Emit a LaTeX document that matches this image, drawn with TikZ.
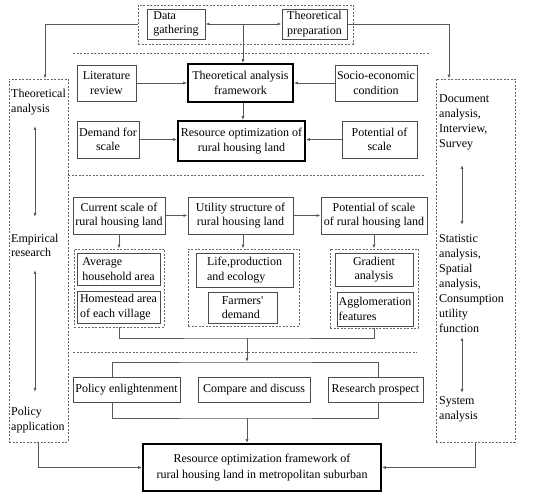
\documentclass[tikz,border=0pt]{standalone}
\usepackage{fontspec}
\setmainfont{Liberation Serif}
\newfontfamily\tnr{Liberation Serif}
\usetikzlibrary{arrows.meta}
\definecolor{lc}{gray}{0.35}
\definecolor{bc}{gray}{0.3}
\definecolor{dc}{gray}{0.4}
\begin{document}
\begin{tikzpicture}[x=1pt,y=-1pt,
  every node/.style={font=\tnr\fontsize{12}{14.5}\selectfont, inner sep=0pt},
  box/.style={draw=bc, line width=0.9pt, align=center},
  tbox/.style={draw=black, line width=1.6pt, align=center},
  dbox/.style={draw=dc, line width=0.7pt, dash pattern=on 2pt off 1.5pt},
  dline/.style={draw=dc, line width=0.7pt, dash pattern=on 2pt off 1.5pt},
  arr/.style={draw=lc, line width=0.8pt, -{Latex[length=4pt,width=3pt]}},
  darr/.style={draw=lc, line width=0.8pt, {Latex[length=4pt,width=3pt]}-{Latex[length=4pt,width=3pt]}},
  ln/.style={draw=lc, line width=0.8pt},
  txt/.style={align=left, anchor=west},
  rtxt/.style={align=left, anchor=west, font=\tnr\fontsize{12}{15}\selectfont}
]
\useasboundingbox (0,0) rectangle (550,497);

% top group
\node[dbox, minimum width=215pt, minimum height=39pt] (topg) at (245.5,24.5) {};
\node[box, align=left, minimum width=58pt, minimum height=30pt] (dg) at (176,24) {Data\\gathering};
\node[box, align=left, minimum width=65pt, minimum height=30pt] (tp) at (314.5,24) {Theoretical\\preparation};
\draw[darr] (dg.east) -- (tp.west);
\coordinate (m1) at (243,24);

% side boxes
\node[dbox, minimum width=59pt, minimum height=363pt] (lbox) at (38.5,260.5) {};
\node[dbox, minimum width=79pt, minimum height=363pt] (rbox) at (475.5,260.5) {};
\coordinate (lx) at (45,0);
\coordinate (rx) at (449,0);
\draw[arr] (topg.west) -| (lx |- lbox.north);
\draw[arr] (tp.east) -| (rx |- rbox.north);

% dashed separators
\draw[dline] (73,53) -- (430,53);
\draw[dline] (68,175) -- (425,175);
\draw[dline] (73,352) -- (417,352);

% row 1
\node[tbox, minimum width=105pt, minimum height=38pt] (taf) at (240.5,83) {Theoretical analysis\\framework};
\node[box, minimum width=59pt, minimum height=36pt] (lit) at (106.5,83) {Literature\\review};
\node[box, minimum width=82pt, minimum height=36pt] (soc) at (376,83) {Socio-economic\\condition};
\draw[arr] (lit) -- (taf);
\draw[arr] (soc) -- (taf);
\draw[arr] (m1) -- (m1 |- taf.north);

% row 2
\node[tbox, minimum width=127pt, minimum height=40pt] (ror) at (241.5,141) {Resource optimization of\\rural housing land};
\node[box, minimum width=62pt, minimum height=37pt] (dem) at (108,139.5) {Demand for\\scale};
\node[box, minimum width=75pt, minimum height=37pt] (pot) at (379.5,139.5) {Potential of\\scale};
\draw[arr] (dem.east) -- (dem.east -| ror.west);
\draw[arr] (pot.west) -- (pot.west -| ror.east);
\draw[arr] (m1 |- taf.south) -- (m1 |- ror.north);

% row 3
\node[box, minimum width=92pt, minimum height=37pt] (cs) at (119,215.5) {Current scale of\\rural housing land};
\node[box, minimum width=105pt, minimum height=37pt] (us) at (240.5,215.5) {Utility structure of\\rural housing land};
\node[box, minimum width=106pt, minimum height=37pt] (ps) at (374,215.5) {Potential of scale\\of rural housing land};
\draw[arr] (cs) -- (us);
\draw[arr] (us) -- (ps);

\node[dbox, minimum width=90pt, minimum height=78pt] (g1) at (119,288) {};
\node[dbox, minimum width=111pt, minimum height=77pt] (g2) at (243.5,287.5) {};
\node[dbox, minimum width=88pt, minimum height=79pt] (g3) at (374,288.5) {};
\draw[arr] (cs.south) -- (cs.south |- g1.north);
\draw[arr] (m1 |- us.south) -- (m1 |- g2.north);
\draw[arr] (ps.south) -- (ps.south |- g3.north);

\node[box, align=left, minimum width=83pt, minimum height=32pt] (avg) at (118.5,269) {Average\\household area};
\node[box, align=left, minimum width=83pt, minimum height=32pt] (hom) at (118.5,307) {Homestead area\\of each village};
\node[box, align=left, minimum width=97pt, minimum height=34pt] (life) at (244.5,270) {Life,production\\and ecology};
\node[box, align=left, minimum width=69pt, minimum height=31pt] (farm) at (242.5,307.5) {Farmers\textquotesingle\\demand};
\node[box, minimum width=78pt, minimum height=33pt] (grad) at (374,269.5) {Gradient\\analysis};
\node[box, align=left, minimum width=76pt, minimum height=34pt] (agg) at (375,309) {Agglomeration\\features};

% brackets
\coordinate (b1) at (247,338);
\coordinate (b2) at (247,362);
\coordinate (b3) at (247,418);
\coordinate (px) at (112,0);
\coordinate (qx) at (378,0);
\draw[ln] (g1.south) |- (b1) -| (g3.south);
\draw[arr] (b1) -- (b2);

% row 4
\node[box, minimum width=107pt, minimum height=25pt] (pe) at (126.5,389.5) {Policy enlightenment};
\node[box, minimum width=112pt, minimum height=25pt] (cd) at (254,389.5) {Compare and discuss};
\node[box, minimum width=95pt, minimum height=25pt] (rp) at (375.5,389.5) {Research prospect};
\draw[ln] (px |- pe.north) |- (b2) -| (qx |- rp.north);
\draw[ln] (px |- pe.south) |- (b3) -| (qx |- rp.south);

% final
\node[tbox, minimum width=238pt, minimum height=47pt, font=\tnr\fontsize{12}{15.5}\selectfont] (fin) at (262,467.5) {Resource optimization framework of\\rural housing land in metropolitan suburban};
\draw[arr] (b3) -- (b3 |- fin.north);
\draw[arr] (lbox.south) |- (fin.west);
\draw[arr] (rbox.south) |- (fin.east);

% left texts
\node[txt] (ta) at (11,102) {Theoretical\\analysis};
\node[txt] (er) at (11,245.5) {Empirical\\research};
\node[txt] (pa) at (11,420) {Policy\\application};
\coordinate (a1) at (35,126);
\coordinate (a2) at (35,217);
\coordinate (a3) at (35,270);
\coordinate (a4) at (35,392);
\draw[darr] (a1) -- (a2);
\draw[darr] (a3) -- (a4);

% right texts
\node[rtxt] (da) at (439,122) {Document\\analysis,\\Interview,\\Survey};
\node[rtxt] (sa) at (439,284) {Statistic\\analysis,\\Spatial\\analysis,\\Consumption\\utility\\function};
\node[rtxt] (sy) at (439,409.5) {System\\analysis};
\coordinate (c1) at (462,165);
\coordinate (c2) at (462,225);
\coordinate (c3) at (462,337);
\coordinate (c4) at (462,393);
\draw[darr] (c1) -- (c2);
\draw[darr] (c3) -- (c4);
\end{tikzpicture}
\end{document}
